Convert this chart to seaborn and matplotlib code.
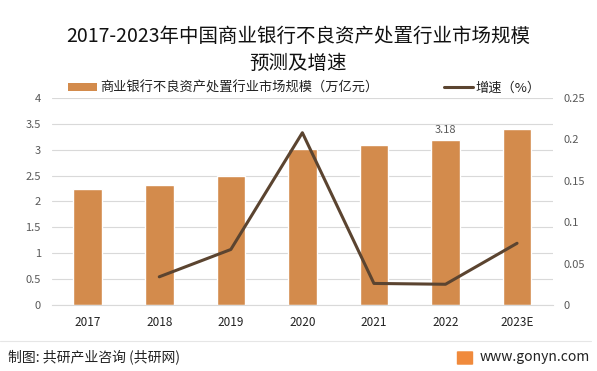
import matplotlib
matplotlib.use("Agg")
import matplotlib.pyplot as plt
import seaborn as sns
import pandas as pd
from matplotlib.patches import FancyBboxPatch
from matplotlib.lines import Line2D
from matplotlib.patches import Patch

years = ["2017", "2018", "2019", "2020", "2021", "2022", "2023E"]
scale = [2.24, 2.32, 2.49, 3.01, 3.09, 3.18, 3.40]
growth_years = ["2018", "2019", "2020", "2021", "2022", "2023E"]
growth = [0.034, 0.067, 0.208, 0.026, 0.025, 0.0745]
left_ticks = [0, 0.5, 1, 1.5, 2, 2.5, 3, 3.5, 4]
right_ticks = [0, 0.05, 0.1, 0.15, 0.2, 0.25]
title_line1 = "2017-2023年中国商业银行不良资产处置行业市场规模"
title_line2 = "预测及增速"
bar_label = "商业银行不良资产处置行业市场规模（万亿元）"
line_label = "增速（%）"

sns.set_theme(style="white")
plt.rcParams['font.family'] = ['Noto Sans CJK SC', 'DejaVu Sans']

BAR = "#D38B4C"
LINE = "#5B4430"
GRID = "#D9D9D9"
TICK = "#595959"

df_bar = pd.DataFrame({"year": years, "scale": scale})
df_line = pd.DataFrame({"year": growth_years, "growth": growth})
df_line["pos"] = [years.index(y) for y in growth_years]

fig = plt.figure(figsize=(5.97, 3.71), dpi=100)
ax = fig.add_axes([0.087, 0.178, 0.839, 0.558])
sns.barplot(data=df_bar, x="year", y="scale", color=BAR, width=0.4,
            saturation=1, ax=ax, zorder=2)
ax.set_xlim(-0.5, 6.5)
ax.set_ylim(0, 4)
ax.set_yticks(left_ticks)
ax.set_yticklabels([f"{t:g}" for t in left_ticks])
ax.grid(axis="y", color=GRID, linewidth=0.8, zorder=0)
ax.set_axisbelow(True)
for s in ["top", "left", "right"]:
    ax.spines[s].set_visible(False)
ax.spines["bottom"].set_color(GRID)
ax.spines["bottom"].set_linewidth(0.8)
ax.set_xlabel("")
ax.set_ylabel("")
ax.tick_params(axis="y", length=0, labelsize=8, labelcolor=TICK, pad=8)
ax.tick_params(axis="x", length=0, labelsize=8.5, labelcolor="#222222", pad=8)

# data label for 2022
i22 = years.index("2022")
ax.text(i22, scale[i22] + 0.1, f"{scale[i22]:.2f}", ha="center", va="bottom",
        fontsize=8, color=TICK)

ax2 = ax.twinx()
sns.lineplot(data=df_line, x="pos", y="growth", color=LINE, linewidth=2.2,
             ax=ax2, zorder=3)
ax2.set_xlim(-0.5, 6.5)
ax2.set_ylim(0, 0.25)
ax2.set_yticks(right_ticks)
ax2.set_yticklabels([f"{t:g}" for t in right_ticks])
for s in ["top", "left", "right", "bottom"]:
    ax2.spines[s].set_visible(False)
ax2.set_ylabel("")
ax2.tick_params(axis="y", length=0, labelsize=8, labelcolor=TICK, pad=8)

# title
fig.text(0.5, 1 - 36 / 371, title_line1, ha="center", va="center",
         fontsize=14, color="#111111")
fig.text(0.5, 1 - 63 / 371, title_line2, ha="center", va="center",
         fontsize=14, color="#111111")

# legend
handles = [Patch(facecolor=BAR, edgecolor="none", label=bar_label),
           Line2D([0], [0], color=LINE, linewidth=2.2, label=line_label)]
leg = fig.legend(handles=handles, loc="center", bbox_to_anchor=(0.51, 0.762),
                 ncol=2, frameon=False, fontsize=9.5, handlelength=2.2,
                 handleheight=0.6, columnspacing=5.0, handletextpad=0.2)
for t in leg.get_texts():
    t.set_color("#222222")

# footer
fig.add_artist(Line2D([0.0, 0.99], [1 - 341 / 371, 1 - 341 / 371],
                      color="#E6E6E6", linewidth=0.8, transform=fig.transFigure))
fig.text(0.013, 1 - 357 / 371, "制图: 共研产业咨询 (共研网)", ha="left",
         va="center", fontsize=10, color="#222222")
fig.add_artist(FancyBboxPatch((458 / 597, 1 - 364 / 371), 14 / 597, 12 / 371,
                              boxstyle="round,pad=0.002", facecolor="#F08A3C",
                              edgecolor="none", transform=fig.transFigure))
fig.text(480 / 597, 1 - 357 / 371, "www.gonyn.com", ha="left", va="center",
         fontsize=10, color="#222222")

fig.savefig("out.png", dpi=100)
